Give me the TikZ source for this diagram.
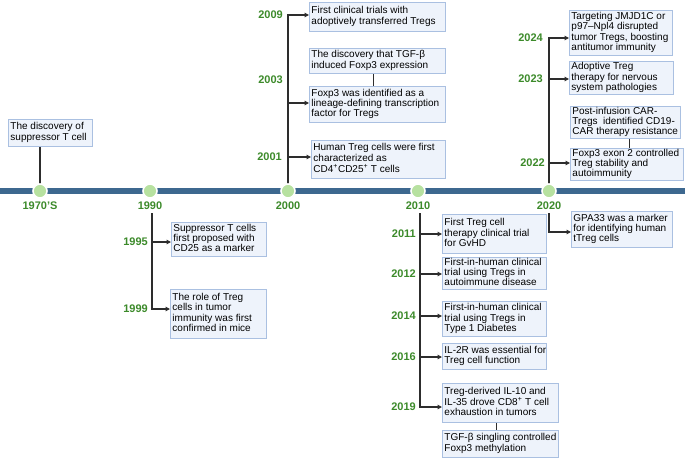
\documentclass[tikz,border=0pt]{standalone}
\usepackage{fontspec}
\setmainfont{Liberation Sans}
\usetikzlibrary{arrows.meta}
\definecolor{boxfill}{RGB}{238,243,251}
\definecolor{boxline}{RGB}{170,192,225}
\definecolor{barcol}{RGB}{61,104,143}
\definecolor{dotg}{RGB}{183,225,160}
\definecolor{yrcol}{RGB}{60,138,42}
\definecolor{conncol}{RGB}{45,45,45}
\newcommand\evt[6]{%
  \pgfmathsetmacro\evw{#4-#2-4}\pgfmathsetmacro\evh{#5-#3}%
  \node[evbox,minimum height=\evh pt] (#1) at (#2,#3)
    {\makebox[\evw pt][l]{\begin{tabular}{@{}l@{}}#6\end{tabular}}};}
\begin{document}
\begin{tikzpicture}[x=1pt,y=-1pt,
  evbox/.style={draw=boxline, fill=boxfill, line width=0.9pt, inner xsep=2pt, inner ysep=0pt,
    anchor=north west, font=\fontsize{10}{10.4}\selectfont},
  yrlab/.style={text=yrcol, font=\bfseries\fontsize{11}{12}\selectfont, anchor=east, inner sep=0pt},
  declab/.style={text=yrcol, font=\bfseries\fontsize{11}{12}\selectfont, inner sep=0pt},
  conn/.style={draw=conncol, line width=1.2pt},
  arr/.style={conn, -{Triangle[length=4.5pt,width=4.5pt]}},
  tdot/.style={circle, fill=dotg, draw=white, line width=1.6pt, minimum size=14pt, inner sep=0pt}]
\useasboundingbox (0,0) rectangle (685,460);
% timeline positions
\coordinate (p1970) at (40,191);
\coordinate (p1990) at (150,191);
\coordinate (p2000) at (288,191);
\coordinate (p2010) at (418,191);
\coordinate (p2020) at (549,191);
\draw[barcol, line width=6pt] (0,191) -- (685,191);
% boxes
\evt{b1970}{8}{119}{92}{146}{The discovery of\\suppressor T cell}
\evt{b1995}{171}{222}{266}{256}{Suppressor T cells\\first proposed with\\CD25 as a marker}
\evt{b1999}{170}{289}{266}{338}{The role of Treg\\cells in tumor\\immunity was first\\confirmed in mice}
\evt{b2009}{309}{2}{445}{31}{First clinical trials with\\adoptively transferred Tregs}
\evt{bTGF}{309}{48}{445}{73}{The discovery that TGF-β\\induced Foxp3 expression}
\evt{b2003}{309}{86}{445}{122}{Foxp3 was identified as a\\lineage-defining transcription\\factor for Tregs}
\evt{b2001}{311}{140}{445}{178}{Human Treg cells were first\\characterized as\\CD4\textsuperscript{+}CD25\textsuperscript{+} T cells}
\evt{b2011}{442}{214}{546}{253}{First Treg cell\\therapy clinical trial\\for GvHD}
\evt{b2012}{442}{257}{546}{289}{First-in-human clinical\\trial using Tregs in\\autoimmune disease}
\evt{b2014}{442}{301}{546}{336}{First-in-human clinical\\trial using Tregs in\\Type 1 Diabetes}
\evt{b2016}{442}{343}{546}{369}{IL-2R was essential for\\Treg cell function}
\evt{b2019}{442}{383}{558}{422}{Treg-derived IL-10 and\\IL-35 drove CD8\textsuperscript{+} T cell\\exhaustion in tumors}
\evt{bTGFb}{442}{430}{558}{457}{TGF-β singling controlled\\Foxp3 methylation}
\evt{b2024}{569}{10}{672}{55}{Targeting JMJD1C or\\p97–Npl4 disrupted\\tumor Tregs, boosting\\antitumor immunity}
\evt{b2023}{569}{61}{673}{94}{Adoptive Treg\\therapy for nervous\\system pathologies}
\evt{bCAR}{570}{106}{680}{138}{Post-infusion CAR-\\Tregs~ identified CD19-\\CAR therapy resistance}
\evt{b2022}{570}{148}{683}{180}{Foxp3 exon 2 controlled\\Treg stability and\\autoimmunity}
\evt{bGPA}{571}{211}{672}{247}{GPA33 was a marker\\for identifying human\\tTreg cells}
% branch points
\coordinate (q1990) at (152,213);
\coordinate (q2010) at (420,213);
\coordinate (q2020) at (549,213);
\coordinate (k1995) at (152,242);
\coordinate (k1999) at (152,309);
\coordinate (k2009) at (288,15);
\coordinate (k2003) at (288,103);
\coordinate (k2001) at (288,157);
\coordinate (k2011) at (420,234);
\coordinate (k2012) at (420,274);
\coordinate (k2014) at (420,316);
\coordinate (k2016) at (420,357);
\coordinate (k2019) at (420,407);
\coordinate (k2024) at (549,38);
\coordinate (k2023) at (549,79);
\coordinate (k2022) at (549,163);
\coordinate (kGPA) at (549,232);
% connectors
\draw[conn] (p1970) -- (p1970 |- b1970.south);
\draw[arr] (q1990) |- (k1999 -| b1999.west);
\draw[arr] (k1995) -- (k1995 -| b1995.west);
\draw[arr] (p2000) |- (k2009 -| b2009.west);
\draw[arr] (k2003) -- (k2003 -| b2003.west);
\draw[arr] (k2001) -- (k2001 -| b2001.west);
\draw[conn] ([xshift=-4pt]bTGF.south) -- ([xshift=-4pt]bTGF.south |- b2003.north);
\draw[arr] (q2010) |- (k2019 -| b2019.west);
\draw[arr] (k2011) -- (k2011 -| b2011.west);
\draw[arr] (k2012) -- (k2012 -| b2012.west);
\draw[arr] (k2014) -- (k2014 -| b2014.west);
\draw[arr] (k2016) -- (k2016 -| b2016.west);
\draw[conn] ([xshift=-4pt]b2019.south) -- ([xshift=-4pt]b2019.south |- bTGFb.north);
\draw[arr] (p2020) |- (k2024 -| b2024.west);
\draw[arr] (k2023) -- (k2023 -| b2023.west);
\draw[arr] (k2022) -- (k2022 -| b2022.west);
\draw[conn] ([xshift=4pt]bCAR.south) -- ([xshift=4pt]bCAR.south |- b2022.north);
\draw[arr] (q2020) |- (kGPA -| bGPA.west);
% dots
\foreach \p in {p1970,p1990,p2000,p2010,p2020} \node[tdot] at (\p) {};
% decade labels
\node[declab] (l1970) at (40,206) {1970'S};
\node[declab] (l1990) at (150,206) {1990};
\node[declab] (l2000) at (288,206) {2000};
\node[declab] (l2010) at (418,206) {2010};
\node[declab] (l2020) at (549,206) {2020};
% year labels
\node[yrlab] (y1995) at (148,242) {1995};
\node[yrlab] (y1999) at (148,309) {1999};
\node[yrlab] (y2009) at (283,15) {2009};
\node[yrlab] (y2003) at (283,80) {2003};
\node[yrlab] (y2001) at (282,157) {2001};
\node[yrlab] (y2011) at (416,234) {2011};
\node[yrlab] (y2012) at (416,274) {2012};
\node[yrlab] (y2014) at (416,316) {2014};
\node[yrlab] (y2016) at (416,357) {2016};
\node[yrlab] (y2019) at (416,407) {2019};
\node[yrlab] (y2024) at (543,38) {2024};
\node[yrlab] (y2023) at (543,79) {2023};
\node[yrlab] (y2022) at (545,163) {2022};
\end{tikzpicture}
\end{document}
